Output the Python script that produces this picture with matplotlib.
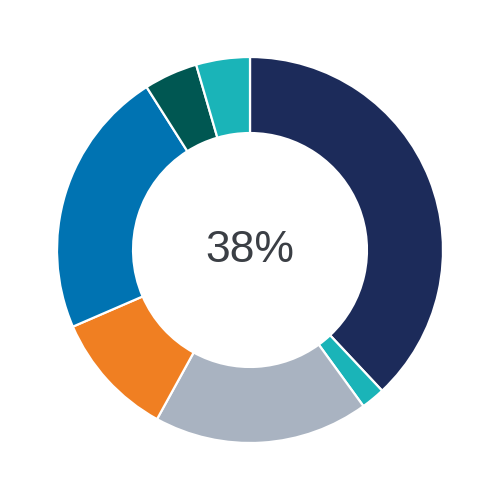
import matplotlib
matplotlib.use('Agg')
import matplotlib.pyplot as plt

# segment shares, clockwise from 12 o'clock
shares = [38, 2, 18, 10.5, 22.5, 4.5, 4.5]
colors = ['#1c2b5a', '#1ab4b8', '#a9b3c1', '#f07f22', '#0073b2', '#005752', '#1ab4b8']
center_label = '38%'

fig = plt.figure(figsize=(5, 5), dpi=100)
ax = fig.add_axes([0, 0, 1, 1])

ax.pie(shares, colors=colors, startangle=90, counterclock=False, radius=1,
       wedgeprops=dict(width=0.394, edgecolor='white', linewidth=1.6))

ax.text(0, 0, center_label, ha='center', va='center', fontsize=32,
        color='#3b3f45', family='Liberation Sans')

lim = 250 / 193
ax.set_xlim(-lim, lim)
ax.set_ylim(-lim, lim)
ax.set_aspect('equal')
ax.axis('off')

fig.savefig('out.png', dpi=100, facecolor='white')
